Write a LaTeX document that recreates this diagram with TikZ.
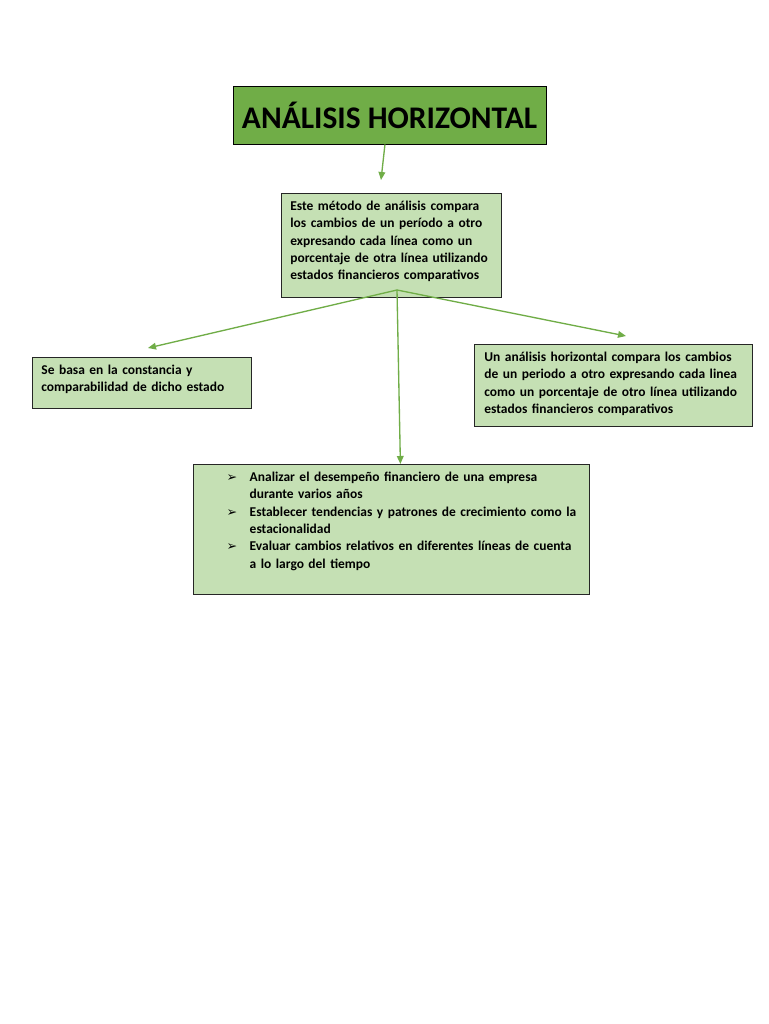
\documentclass[tikz,border=0pt]{standalone}
\usepackage{fontspec}
\setmainfont{Carlito}
\newfontfamily\symfont{DejaVu Sans}
\usetikzlibrary{arrows.meta}
\definecolor{verde}{HTML}{70AD47}
\definecolor{verdeclaro}{HTML}{C5E0B4}
\newcommand{\bul}{\hspace*{17pt}\makebox[17.25pt][l]{\symfont\fontsize{9.5}{9.5}\selectfont ➢}}
\newcommand{\sangria}{\hspace*{34.25pt}}

\begin{document}
\begin{tikzpicture}[x=0.75pt,y=-0.75pt,
  caja/.style={draw=black!85,line width=0.6pt,fill=verdeclaro,anchor=north west,
    align=left,font=\bfseries\fontsize{10.1}{13.1}\selectfont,inner ysep=4.5pt,text height=8pt},
  flecha/.style={verde,line width=1pt,-{Triangle[length=6pt,width=5pt]}}]
\useasboundingbox[fill=white] (0,0) rectangle (768,1024);

\node[draw=black,line width=0.7pt,fill=verde,minimum width=234.75pt,minimum height=43.5pt,
  font=\bfseries\fontsize{23.6}{26}\selectfont] (titulo) at (389.5,115) {ANÁLISIS HORIZONTAL};

\node[caja,text width=151.5pt,inner xsep=6.75pt,text depth=61pt] (metodo) at (281,193)
  {Este método de análisis compara\\los cambios de un período a otro\\expresando cada línea como un\\porcentaje de otra línea utilizando\\estados financieros comparativos};
\node[caja,text width=150.75pt,inner xsep=6.75pt,text depth=21.25pt] (base) at (32,357)
  {Se basa en la constancia y\\comparabilidad de dicho estado};
\node[caja,text width=193.5pt,inner xsep=7.5pt,text depth=44.5pt] (compara) at (474,344)
  {Un análisis horizontal compara los cambios\\de un periodo a otro expresando cada linea\\como un porcentaje de otro línea utilizando\\estados financieros comparativos};
\node[caja,text width=281pt,inner xsep=8pt,text depth=80.5pt] (lista) at (193,464)
  {\bul Analizar el desempeño financiero de una empresa\\\sangria durante varios años\\
   \bul Establecer tendencias y patrones de crecimiento como la\\\sangria estacionalidad\\
   \bul Evaluar cambios relativos en diferentes líneas de cuenta\\\sangria a lo largo del tiempo};

\coordinate (t1) at (381,180);
\coordinate (hub) at (397,290);
\coordinate (izq) at (148,348);
\coordinate (der) at (626,336);

\draw[flecha] ([xshift=-3.4pt]titulo.south) -- (t1);
\draw[flecha] (hub) -- (izq);
\draw[flecha] (hub) -- (der);
\draw[flecha] (hub) -- ([xshift=6.75pt]lista.north);
\end{tikzpicture}
\end{document}
